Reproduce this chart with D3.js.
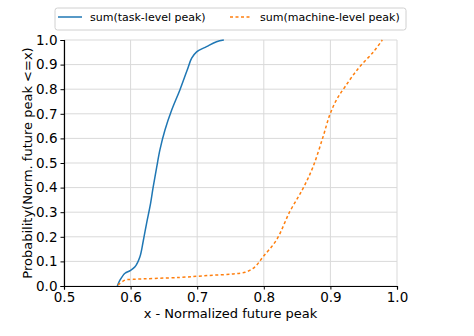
<!DOCTYPE html>
<html><head><meta charset="utf-8">
<script src="https://cdn.jsdelivr.net/npm/d3@7"></script>
<style>body{margin:0;background:#fff}svg{display:block}text{font-family:"DejaVu Sans",sans-serif}</style>
</head><body><svg id="c" width="474" height="336"></svg>
<script>
const seriesNames = ["sum(task-level peak)", "sum(machine-level peak)"];
const taskX = [0.580,0.584,0.5916,0.599,0.6066,0.614,0.619,0.624,0.630,0.634,0.639,0.644,0.6516,0.6617,0.674,0.685,0.6917,0.6992,0.714,0.729,0.740];
const taskY = [0.0,0.024,0.052,0.062,0.078,0.119,0.183,0.255,0.336,0.404,0.48,0.553,0.634,0.715,0.797,0.878,0.926,0.952,0.973,0.993,1.0];
const machX = [0.581,0.5916,0.604,0.674,0.719,0.754,0.772,0.786,0.799,0.819,0.839,0.859,0.874,0.889,0.899,0.909,0.922,0.942,0.9647,0.978];
const machY = [0.004,0.024,0.027,0.035,0.043,0.049,0.056,0.076,0.119,0.187,0.302,0.397,0.485,0.607,0.695,0.756,0.81,0.885,0.952,1.0];
const xTicks = [0.5,0.6,0.7,0.8,0.9,1.0];
const yTicks = [0,0.1,0.2,0.3,0.4,0.5,0.6,0.7,0.8,0.9,1.0];

const svg = d3.select("#c");
const L=64, R=397, T=40, B=286;
const x = d3.scaleLinear().domain([0.5,1.0]).range([L,R]);
const y = d3.scaleLinear().domain([0,1]).range([B,T]);

// grid
svg.append("g").selectAll("line").data(xTicks).join("line")
  .attr("x1",d=>x(d)).attr("x2",d=>x(d)).attr("y1",T).attr("y2",B)
  .attr("stroke","#d9d9d9").attr("stroke-width",1);
svg.append("g").selectAll("line").data(yTicks).join("line")
  .attr("x1",L).attr("x2",R).attr("y1",d=>y(d)).attr("y2",d=>y(d))
  .attr("stroke","#d9d9d9").attr("stroke-width",1);

const line = d3.line().x(d=>x(d[0])).y(d=>y(d[1])).curve(d3.curveCatmullRom.alpha(0.5));
svg.append("path").datum(taskX.map((v,i)=>[v,taskY[i]])).attr("d",line)
  .attr("fill","none").attr("stroke","#1f77b4").attr("stroke-width",1.5);
svg.append("path").datum(machX.map((v,i)=>[v,machY[i]])).attr("d",line)
  .attr("fill","none").attr("stroke","#ff7f0e").attr("stroke-width",1.5).attr("stroke-dasharray","3,2.5");

// axes
const xa = svg.append("g").attr("transform",`translate(0,${B})`)
  .call(d3.axisBottom(x).tickValues(xTicks).tickFormat(d3.format(".1f")).tickSize(3.5).tickPadding(3));
const ya = svg.append("g").attr("transform",`translate(${L},0)`)
  .call(d3.axisLeft(y).tickValues(yTicks).tickFormat(d3.format(".1f")).tickSize(3.5).tickPadding(3));
[xa,ya].forEach(g=>{
  g.select(".domain").attr("stroke","#000").attr("stroke-width",1.2);
  g.selectAll(".tick line").attr("stroke","#000").attr("stroke-width",1);
  g.selectAll(".tick text").attr("font-size","13.5px").attr("fill","#000").attr("font-family","DejaVu Sans");
});

svg.append("text").attr("x",(L+R)/2).attr("y",318).attr("text-anchor","middle")
  .attr("font-size","13px").text("x - Normalized future peak");
svg.append("text").attr("transform",`translate(32,${(T+B)/2}) rotate(-90)`).attr("text-anchor","middle")
  .attr("font-size","13px").text("Probability(Norm. future peak <=x)");

// legend
const lg = svg.append("g");
lg.append("rect").attr("x",55).attr("y",8).attr("width",351).attr("height",22).attr("rx",2.5)
  .attr("fill","#fff").attr("stroke","#d0d0d0").attr("stroke-width",1);
lg.append("line").attr("x1",58).attr("x2",82).attr("y1",17).attr("y2",17).attr("stroke","#1f77b4").attr("stroke-width",1.5);
lg.append("text").attr("x",90).attr("y",21).attr("font-size","11px").text(seriesNames[0]);
lg.append("line").attr("x1",230).attr("x2",252).attr("y1",17).attr("y2",17).attr("stroke","#ff7f0e").attr("stroke-width",1.5).attr("stroke-dasharray","3,2.5");
lg.append("text").attr("x",260).attr("y",21).attr("font-size","11px").text(seriesNames[1]);
</script></body></html>
